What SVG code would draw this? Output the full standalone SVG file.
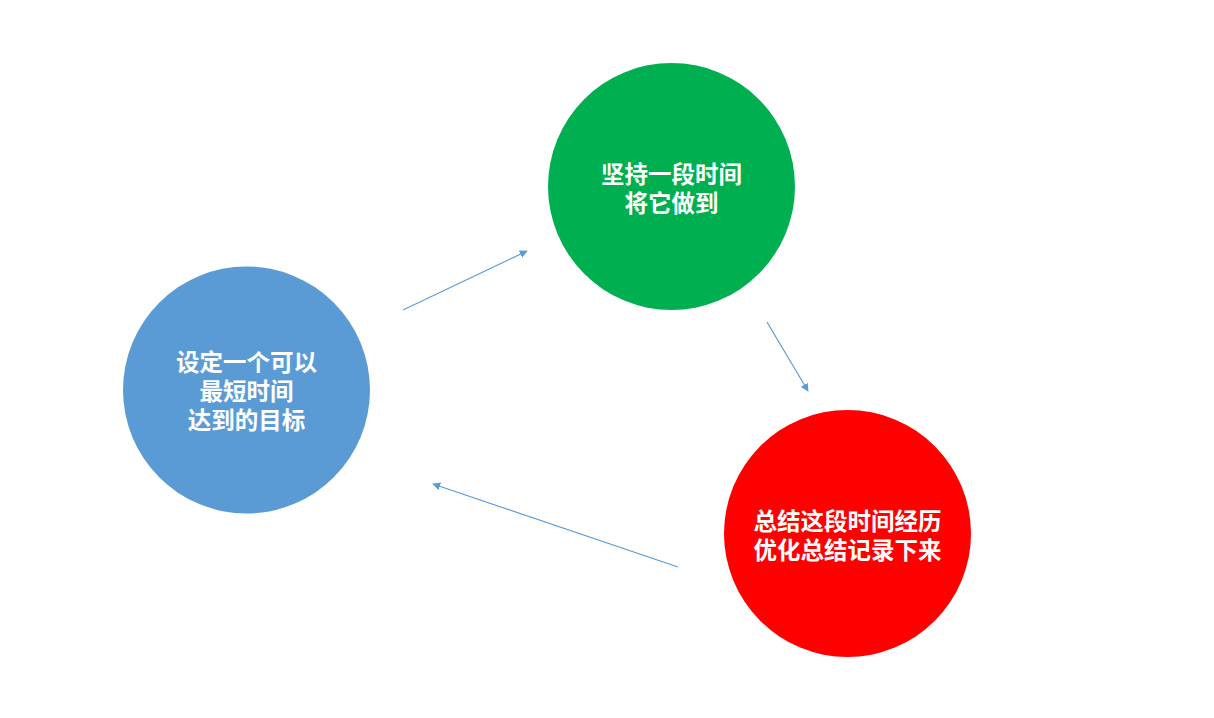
<svg xmlns="http://www.w3.org/2000/svg" width="1214" height="718" viewBox="0 0 1214 718">
<defs>
<style>
.t{font-family:"Noto Sans CJK SC","Noto Sans",sans-serif;font-weight:bold;font-size:23.5px;fill:#fff;text-anchor:middle;dominant-baseline:central}
.c{stroke:#5B9BD5;stroke-width:1.2;fill:none;marker-end:url(#ah)}
</style>
<marker id="ah" viewBox="0 0 10 10" refX="9" refY="5" markerWidth="8" markerHeight="8" markerUnits="userSpaceOnUse" orient="auto"><path d="M0,0L10,5L0,10z" fill="#5B9BD5"/></marker>
</defs>
<rect width="1214" height="718" fill="#fff"/>
<g id="n1"><circle cx="246.5" cy="390" r="123.5" fill="#5B9BD5"/>
<text class="t" x="246.5" y="361">设定一个可以</text><text class="t" x="246.5" y="390">最短时间</text><text class="t" x="246.5" y="419">达到的目标</text></g>
<g id="n2"><circle cx="671.5" cy="186.5" r="123.5" fill="#00B050"/>
<text class="t" x="671.5" y="173">坚持一段时间</text><text class="t" x="671.5" y="202">将它做到</text></g>
<g id="n3"><circle cx="847.5" cy="533.5" r="123.5" fill="#FF0000"/>
<text class="t" x="847.5" y="520">总结这段时间经历</text><text class="t" x="847.5" y="549">优化总结记录下来</text></g>
<g id="connectors">
<line class="c" x1="403" y1="310" x2="527" y2="251"/>
<line class="c" x1="767" y1="322" x2="808" y2="391"/>
<line class="c" x1="678" y1="567" x2="433" y2="484"/>
</g>
</svg>
